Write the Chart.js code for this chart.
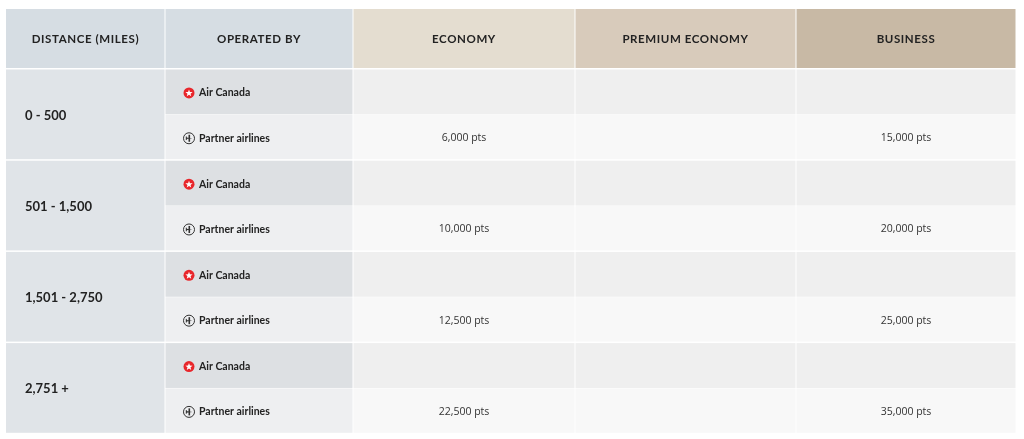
<!DOCTYPE html>
<html><head><meta charset="utf-8">
<script src="https://cdn.jsdelivr.net/npm/chart.js@4"></script>
<style>html,body{margin:0;padding:0;background:#fff}#wrap{width:1024px;height:439px}</style>
</head><body><div id="wrap"><canvas id="c"></canvas></div>
<script>
const headers = ["DISTANCE (MILES)", "OPERATED BY", "ECONOMY", "PREMIUM ECONOMY", "BUSINESS"];
const distances = ["0 - 500", "501 - 1,500", "1,501 - 2,750", "2,751 +"];
const operators = ["Air Canada", "Partner airlines"];
const economyPartner = [6000, 10000, 12500, 22500];
const premiumPartner = [null, null, null, null];
const businessPartner = [15000, 20000, 25000, 35000];

// layout (pixel units of the scales)
const colEdges = [6, 165, 353, 575, 796, 1016];
const headTop = 9, headBot = 68, groupH = 91.2, gap = 1.5;
const headColors = ["#d6dde3", "#d6dde3", "#e4ddd0", "#d8cbbb", "#c8b9a5"];

function fmt(v){ return v == null ? "" : v.toLocaleString("en-US") + " pts"; }

const tablePlugin = {
  id: "table",
  afterDraw(chart){
    const ctx = chart.ctx, xs = chart.scales.x, ys = chart.scales.y;
    const X = v => xs.getPixelForValue(v), Y = v => ys.getPixelForValue(v);
    const rect = (x0,y0,x1,y1,c)=>{ ctx.fillStyle=c; ctx.fillRect(X(x0),Y(y0),X(x1)-X(x0),Y(y1)-Y(y0)); };
    ctx.save();
    headers.forEach((h,i)=>{
      rect(colEdges[i]+(i?0.5:0), headTop, colEdges[i+1]-0.5, headBot, headColors[i]);
      ctx.fillStyle="#222"; ctx.font="bold 11.5px Lato, 'Open Sans', sans-serif";
      ctx.textAlign="center"; ctx.textBaseline="middle";
      if (ctx.letterSpacing!==undefined) ctx.letterSpacing="0.6px";
      ctx.fillText(h, (X(colEdges[i])+X(colEdges[i+1]))/2, Y((headTop+headBot)/2+1));
      if (ctx.letterSpacing!==undefined) ctx.letterSpacing="0px";
    });
    const vals = [economyPartner, premiumPartner, businessPartner];
    distances.forEach((d,g)=>{
      const top = headBot + gap + g*groupH;
      const bot = top + groupH - gap;
      const mid = top + (bot-top)/2;
      rect(colEdges[0], top, colEdges[1]-0.5, bot, "#e0e4e8");
      ctx.fillStyle="#222"; ctx.font="bold 13px Lato, 'Open Sans', sans-serif";
      ctx.textAlign="left"; ctx.textBaseline="middle";
      ctx.fillText(d, X(25), Y(mid+1));
      rect(colEdges[1]+0.5, top, colEdges[2]-0.5, mid, "#dde0e3");
      rect(colEdges[1]+0.5, mid+0.5, colEdges[2]-0.5, bot, "#eeeff1");
      for(let c=2;c<5;c++){
        rect(colEdges[c]+0.5, top, colEdges[c+1]-0.5, mid, "#efefef");
        rect(colEdges[c]+0.5, mid+0.5, colEdges[c+1]-0.5, bot, "#f8f8f8");
      }
      const y1 = Y((top+mid)/2+1), y2 = Y((mid+bot)/2+1.5);
      const ix = X(189);
      ctx.fillStyle="#e8262b"; ctx.beginPath(); ctx.arc(ix,y1,5.5,0,Math.PI*2); ctx.fill();
      ctx.fillStyle="#fff"; ctx.beginPath();
      for(let k=0;k<10;k++){ const r=k%2?1.6:3.8, a=-Math.PI/2+k*Math.PI/5; ctx.lineTo(ix+r*Math.cos(a), y1+0.3+r*Math.sin(a)); }
      ctx.fill();
      ctx.strokeStyle="#333"; ctx.lineWidth=1; ctx.beginPath(); ctx.arc(ix,y2,5.5,0,Math.PI*2); ctx.stroke();
      ctx.fillStyle="#333"; ctx.beginPath();
      ctx.moveTo(ix+3.5,y2); ctx.lineTo(ix-3,y2-0.8); ctx.lineTo(ix-3,y2+0.8); ctx.fill();
      ctx.fillRect(ix-0.5,y2-3.5,1.6,7); ctx.fillRect(ix-3.2,y2-1.8,1,3.6);
      ctx.fillStyle="#222"; ctx.font="bold 10.5px Lato, 'Open Sans', sans-serif"; ctx.textAlign="left";
      ctx.fillText(operators[0], X(199), y1);
      ctx.fillText(operators[1], X(199), y2);
      ctx.font="10.5px 'Open Sans', Lato, sans-serif"; ctx.textAlign="center"; ctx.fillStyle="#333";
      vals.forEach((arr,k)=>{
        ctx.fillText(fmt(arr[g]), (X(colEdges[k+2])+X(colEdges[k+3]))/2, y2);
      });
    });
    ctx.restore();
  }
};

new Chart(document.getElementById("c"), {
  type: "scatter",
  data: { datasets: [{ data: [] }] },
  options: {
    responsive: true, maintainAspectRatio: false, animation: false,
    layout: { padding: 0 },
    plugins: { legend: { display: false }, tooltip: { enabled: false } },
    scales: {
      x: { type: "linear", min: 0, max: 1024, display: false },
      y: { type: "linear", min: 0, max: 439, reverse: true, display: false }
    }
  },
  plugins: [tablePlugin]
});
</script></body></html>
